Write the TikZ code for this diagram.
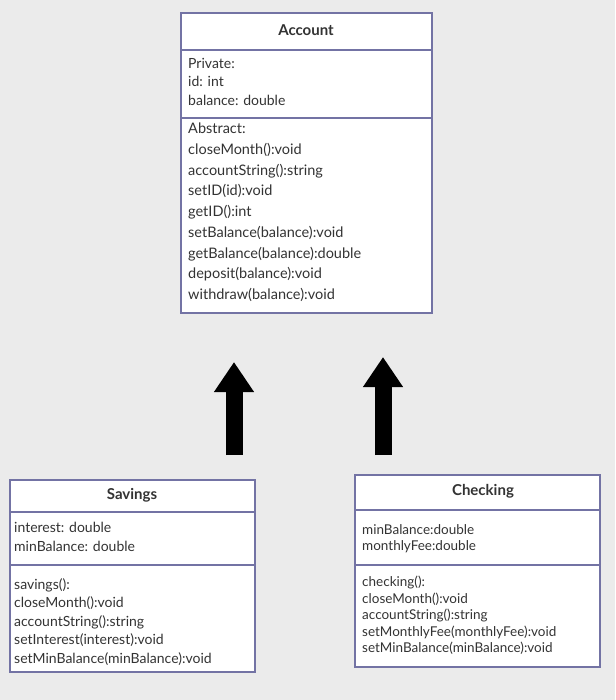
\documentclass[tikz,border=0pt]{standalone}
\usepackage{fontspec}
\setmainfont{Lato}
\usetikzlibrary{arrows.meta}
\begin{document}
\begin{tikzpicture}[x=1pt,y=-1pt,
  box/.style={draw=blue!35!black!55, line width=1.2pt, fill=white},
  sec/.style={anchor=north west, align=left, inner sep=0pt, font=\fontsize{14}{18.5}\selectfont, text=black!80},
  big/.style={font=\fontsize{14.5}{20.7}\selectfont},
  ttl/.style={font=\bfseries\fontsize{15}{17}\selectfont, text=black!80},
  inh/.style={line width=17pt, -{Triangle[width=38pt,length=30pt]}}]
\fill[black!8] (0,0) rectangle (615,700);
\useasboundingbox (0,0) rectangle (615,700);
% Account
\draw[box] (181,13) rectangle (432,313);
\draw[box] (181,50) -- (432,50);
\draw[box] (181,118) -- (432,118);
\node[ttl] (acct) at (306,30) {Account};
\node[sec] (accp) at (188,58) {Private:\\id: int\\balance: double};
\node[sec,big] (acca) at (188,123) {Abstract:\\closeMonth():void\\accountString():string\\setID(id):void\\getID():int\\setBalance(balance):void\\getBalance(balance):double\\deposit(balance):void\\withdraw(balance):void};
% Savings
\draw[box] (10,480) rectangle (255,672);
\draw[box] (10,512) -- (255,512);
\draw[box] (10,565) -- (255,565);
\node[ttl] (sav) at (132,495) {Savings};
\node[sec] (sava) at (14,522) {interest: double\\minBalance: double};
\node[sec] (savm) at (14,578) {savings():\\closeMonth():void\\accountString():string\\setInterest(interest):void\\setMinBalance(minBalance):void};
% Checking
\draw[box] (355,475) rectangle (600,667);
\draw[box] (355,510) -- (600,510);
\draw[box] (355,565) -- (600,565);
\node[ttl] (chk) at (483,491) {Checking};
\node[sec,font=\fontsize{13.5}{16.5}\selectfont] (chka) at (362,524) {minBalance:double\\monthlyFee:double};
\node[sec,font=\fontsize{13.5}{16.5}\selectfont] (chkm) at (362,576) {checking():\\closeMonth():void\\accountString():string\\setMonthlyFee(monthlyFee):void\\setMinBalance(minBalance):void};
% arrows
\coordinate (s1) at (234,455); \coordinate (e1) at (234,362);
\coordinate (s2) at (383,455); \coordinate (e2) at (383,357);
\draw[inh] (s1) -- (e1);
\draw[inh] (s2) -- (e2);
\end{tikzpicture}
\end{document}
